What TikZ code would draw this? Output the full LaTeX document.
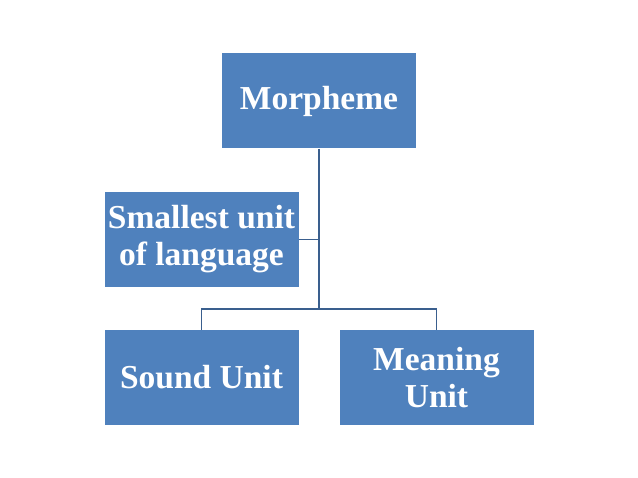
\documentclass[tikz,border=0pt]{standalone}
\usepackage{fontspec}
\setmainfont{Liberation Serif}
\definecolor{boxblue}{HTML}{4F81BD}
\definecolor{lineblue}{HTML}{3A5F8E}
\begin{document}
\begin{tikzpicture}[x=1pt,y=-1pt,
  box/.style={draw=none,fill=boxblue,minimum width=194pt,minimum height=95pt,inner sep=0pt,
    text=white,font=\fontsize{33.5}{37}\selectfont\bfseries,align=center},
  conn/.style={draw=lineblue,line width=1.5pt}]
\useasboundingbox (0,0) rectangle (638,478);
\node[box] (m) at (319,101) {Morpheme};
\node[box] (s) at (201.5,239.5) {Smallest unit\\of language};
\node[box] (su) at (201.5,377.5) {Sound Unit};
\node[box] (mu) at (436.5,377.5) {Meaning\\Unit};
\coordinate (j) at (319,309);
\draw[conn] (m.south) -- (j);
\draw[conn] (s.east) -- (s.east -| j);
\draw[conn] (su.north) |- (j) -| (mu.north);
\end{tikzpicture}
\end{document}
